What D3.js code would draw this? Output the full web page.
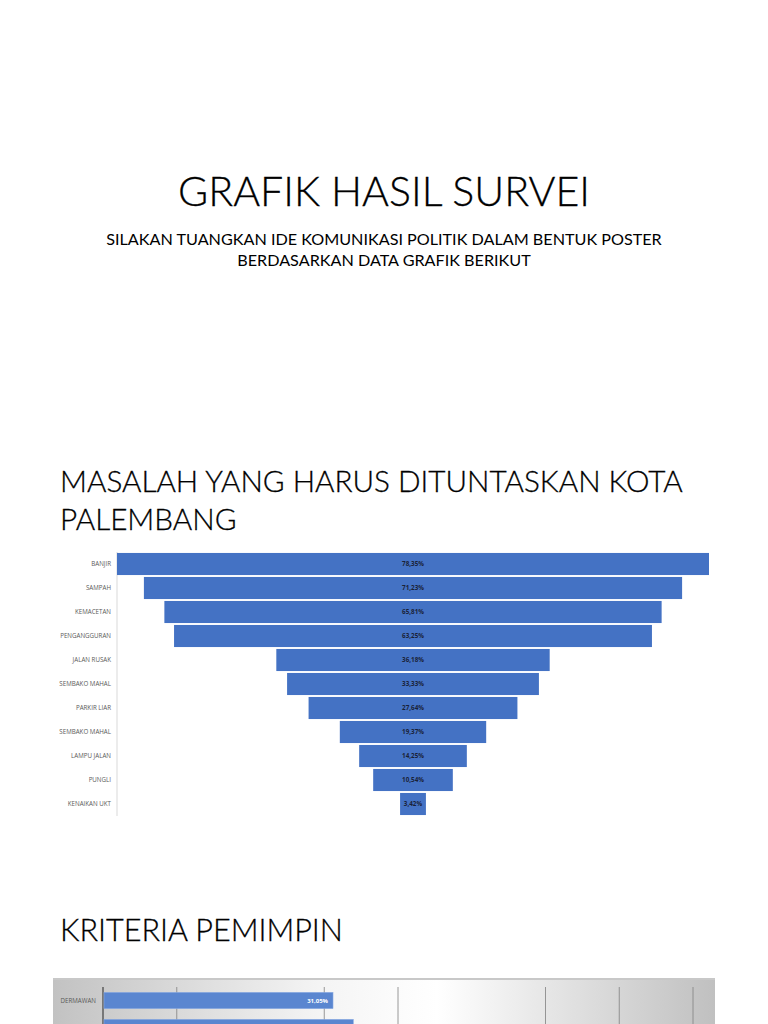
<!DOCTYPE html>
<html>
<head>
<meta charset="utf-8">
<script src="https://cdn.jsdelivr.net/npm/d3@7"></script>
<style>
  html, body { margin: 0; padding: 0; background: #fff; }
  svg { display: block; }
</style>
</head>
<body>
<div id="chart"></div>
<script>
// funnel data: masalah kota palembang
const masalah = ["BANJIR", "SAMPAH", "KEMACETAN", "PENGANGGURAN", "JALAN RUSAK", "SEMBAKO MAHAL",
  "PARKIR LIAR", "SEMBAKO MAHAL", "LAMPU JALAN", "PUNGLI", "KENAIKAN UKT"];
const masalahValues = [78.35, 71.23, 65.81, 63.25, 36.18, 33.33, 27.64, 19.37, 14.25, 10.54, 3.42];

// kriteria pemimpin (only the top is on the page)
const kriteria = ["DERMAWAN", "JUJUR"];
const kriteriaValues = [31.05, 33.8];
const kriteriaGrid = [10, 30, 40, 60, 70, 80];

const W = 768, H = 1024;
const fmt = d3.formatLocale({ decimal: ",", thousands: ".", grouping: [3], currency: ["", ""] }).format(".2f");
const pct = v => fmt(v) + "%";

const svg = d3.select("#chart").append("svg")
  .attr("width", W)
  .attr("height", H);

// fit a text to a given width by scaling its font size
function fitText(sel, width) {
  const size = parseFloat(sel.attr("font-size"));
  const len = sel.node().getComputedTextLength();
  sel.attr("font-size", size * width / len);
  return sel;
}

function heading(x, y, txt, anchor) {
  return svg.append("text")
    .attr("x", x).attr("y", y)
    .attr("text-anchor", anchor || "start")
    .attr("font-family", "Lato, 'Open Sans', sans-serif")
    .attr("font-weight", 300)
    .attr("font-size", 36)
    .attr("fill", "#000")
    .attr("stroke", "#000")
    .attr("stroke-width", 0.3)
    .text(txt);
}

// ---- titles ----
fitText(heading(W / 2, 206, "GRAFIK HASIL SURVEI", "middle"), 412);

const sub = ["SILAKAN TUANGKAN IDE KOMUNIKASI POLITIK DALAM BENTUK POSTER", "BERDASARKAN DATA GRAFIK BERIKUT"];
const subT = svg.append("text")
  .attr("x", W / 2).attr("y", 245)
  .attr("text-anchor", "middle")
  .attr("font-family", "Lato, 'Open Sans', sans-serif")
  .attr("font-size", 18)
  .attr("fill", "#000")
  .text(sub[0]);
fitText(subT, 556);
svg.append("text")
  .attr("x", W / 2).attr("y", 266)
  .attr("text-anchor", "middle")
  .attr("font-family", "Lato, 'Open Sans', sans-serif")
  .attr("font-size", subT.attr("font-size"))
  .attr("fill", "#000")
  .text(sub[1]);

const h1 = fitText(heading(60, 492, "MASALAH YANG HARUS DITUNTASKAN KOTA"), 623);
heading(60, 530, "PALEMBANG").attr("font-size", h1.attr("font-size"));
fitText(heading(60, 941, "KRITERIA PEMIMPIN"), 283);

// ---- funnel ----
const maxV = d3.max(masalahValues);
const fx = d3.scaleLinear().domain([0, maxV]).range([117, 709]);
const fy = d3.scaleBand().domain(d3.range(masalah.length)).range([552, 816]).paddingInner(0.08).paddingOuter(0.04);

const funnel = svg.append("g");

funnel.append("line")
  .attr("x1", 117).attr("x2", 117)
  .attr("y1", 552).attr("y2", 816)
  .attr("stroke", "#d9d9d9");

funnel.selectAll("rect.f")
  .data(masalahValues)
  .join("rect")
  .attr("class", "f")
  .attr("x", d => fx((maxV - d) / 2))
  .attr("y", (d, i) => fy(i))
  .attr("width", d => fx(d) - fx(0))
  .attr("height", fy.bandwidth())
  .attr("fill", "#4472c4");

funnel.selectAll("text.v")
  .data(masalahValues)
  .join("text")
  .attr("class", "v")
  .attr("x", fx(maxV / 2))
  .attr("y", (d, i) => fy(i) + fy.bandwidth() / 2)
  .attr("dy", "0.35em")
  .attr("text-anchor", "middle")
  .attr("font-family", "'Open Sans', sans-serif")
  .attr("font-weight", "bold")
  .attr("font-size", 6.3)
  .attr("fill", "#1a2238")
  .text(pct);

funnel.selectAll("text.c")
  .data(masalah)
  .join("text")
  .attr("class", "c")
  .attr("x", 111)
  .attr("y", (d, i) => fy(i) + fy.bandwidth() / 2)
  .attr("dy", "0.35em")
  .attr("text-anchor", "end")
  .attr("font-family", "'Open Sans', sans-serif")
  .attr("font-size", 6.2)
  .attr("fill", "#595959")
  .text(d => d);

// ---- kriteria pemimpin ----
const defs = svg.append("defs");
const grad = defs.append("linearGradient").attr("id", "panelGrad")
  .attr("x1", "0%").attr("x2", "100%").attr("y1", "0%").attr("y2", "0%");
grad.append("stop").attr("offset", "0%").attr("stop-color", "#c2c2c2");
grad.append("stop").attr("offset", "40%").attr("stop-color", "#f4f4f4");
grad.append("stop").attr("offset", "58%").attr("stop-color", "#ffffff");
grad.append("stop").attr("offset", "100%").attr("stop-color", "#c0c0c0");

const k = svg.append("g");
k.append("rect")
  .attr("x", 53).attr("y", 978)
  .attr("width", 662).attr("height", 60)
  .attr("fill", "url(#panelGrad)");
k.append("line")
  .attr("x1", 53).attr("x2", 715)
  .attr("y1", 979).attr("y2", 979)
  .attr("stroke", "#c8c8c8").attr("stroke-width", 2);

const kx = d3.scaleLinear().domain([0, 80]).range([103, 693]);
const ky = d3.scaleBand().domain(d3.range(kriteria.length)).range([987, 1041]).paddingInner(0.4).paddingOuter(0.2);

k.selectAll("line.g")
  .data(kriteriaGrid)
  .join("line")
  .attr("class", "g")
  .attr("x1", d => kx(d)).attr("x2", d => kx(d))
  .attr("y1", 987).attr("y2", H)
  .attr("stroke", "#808080").attr("stroke-width", 0.8);

k.append("g")
  .attr("transform", `translate(${kx(0)},0)`)
  .call(d3.axisLeft(ky).tickValues([]).tickSize(0).tickSizeOuter(0))
  .call(g => g.select(".domain").attr("stroke", "#404040").attr("stroke-width", 1.2)
    .attr("d", `M0,987V${H}`));

k.selectAll("rect.k")
  .data(kriteriaValues)
  .join("rect")
  .attr("class", "k")
  .attr("x", kx(0) + 1)
  .attr("y", (d, i) => ky(i))
  .attr("width", d => kx(d) - kx(0))
  .attr("height", ky.bandwidth())
  .attr("fill", "#5a86d0")
  .attr("stroke", "#86a8e2")
  .attr("stroke-width", 0.6);

// only rows whose centre lies on the page get labels
const shown = kriteria.map((d, i) => i).filter(i => ky(i) + ky.bandwidth() / 2 < H - 4);

k.selectAll("text.kv")
  .data(shown)
  .join("text")
  .attr("class", "kv")
  .attr("x", i => kx(kriteriaValues[i]) - 4)
  .attr("y", i => ky(i) + ky.bandwidth() / 2)
  .attr("dy", "0.35em")
  .attr("text-anchor", "end")
  .attr("font-family", "'Open Sans', sans-serif")
  .attr("font-weight", "bold")
  .attr("font-size", 6)
  .attr("fill", "#fff")
  .text(i => pct(kriteriaValues[i]));

k.selectAll("text.kc")
  .data(shown)
  .join("text")
  .attr("class", "kc")
  .attr("x", 96)
  .attr("y", i => ky(i) + ky.bandwidth() / 2)
  .attr("dy", "0.35em")
  .attr("text-anchor", "end")
  .attr("font-family", "'Open Sans', sans-serif")
  .attr("font-size", 6.2)
  .attr("fill", "#595959")
  .text(i => kriteria[i]);
</script>
</body>
</html>
